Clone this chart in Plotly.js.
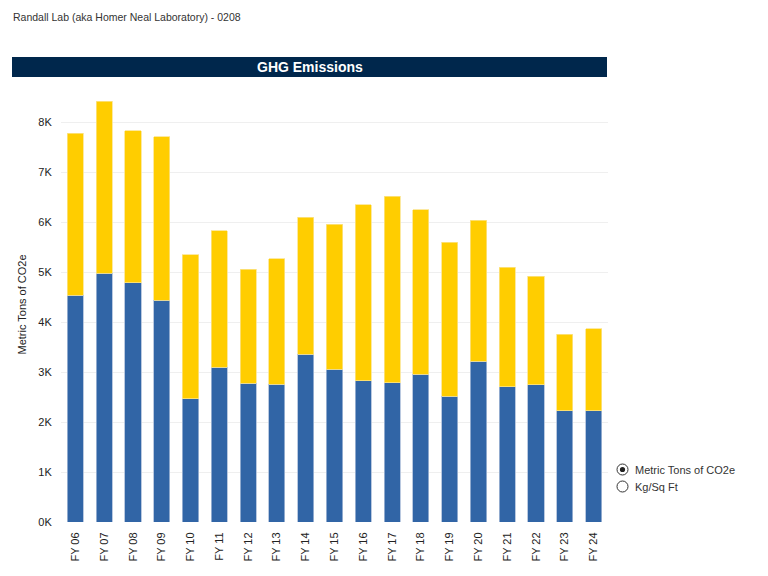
<!DOCTYPE html>
<html>
<head>
<meta charset="utf-8">
<script src="https://cdn.plot.ly/plotly-3.0.1.min.js"></script>
<style>html,body{margin:0;padding:0;background:#fff;}#chart{width:768px;height:576px;}</style>
</head>
<body>
<div id="chart"></div>
<script>
// Data (metric tons CO2e)
var fiscalYears = ["FY 06","FY 07","FY 08","FY 09","FY 10","FY 11","FY 12","FY 13","FY 14","FY 15","FY 16","FY 17","FY 18","FY 19","FY 20","FY 21","FY 22","FY 23","FY 24"];
var blueSeries  = [4534,4974,4788,4440,2468,3094,2774,2754,3360,3054,2828,2788,2960,2520,3214,2708,2748,2228,2228];
var totalSeries = [7780,8414,7828,7708,5348,5828,5054,5268,6094,5960,6348,6520,6248,5594,6034,5094,4920,3754,3868];
var yellowSeries = totalSeries.map(function(t,i){return t - blueSeries[i];});
var yTickVals = [0,1000,2000,3000,4000,5000,6000,7000,8000];
var yTickText = ["0K","1K","2K","3K","4K","5K","6K","7K","8K"];

var font = "Liberation Sans, Arial, sans-serif";
var traces = [
  {type:"bar", x:fiscalYears, y:blueSeries, name:"Blue",
   marker:{color:"#3165a6", line:{color:"#a9bcd8", width:0.8}}, hoverinfo:"x+y"},
  {type:"bar", x:fiscalYears, y:yellowSeries, name:"Yellow",
   marker:{color:"#ffcd00", line:{color:"#fbe38a", width:0.8}}, hoverinfo:"x+y"}
];

var L = 61, R = 160, T = 87, B = 54;
var W = 768 - L - R, H = 576 - T - B;
function px(x){return (x - L)/W;}
function py(y){return (576 - B - y)/H;}

var layout = {
  width:768, height:576,
  margin:{l:L, r:R, t:T, b:B, pad:0},
  paper_bgcolor:"#fff", plot_bgcolor:"#fff",
  barmode:"stack", bargap:0.44,
  showlegend:false,
  font:{family:font, size:11, color:"#333"},
  xaxis:{type:"category", tickangle:-90, showgrid:false, zeroline:false, showline:false,
         ticks:"outside", ticklen:5, tickcolor:"rgba(0,0,0,0)",
         tickfont:{family:font, size:11, color:"#222"}},
  yaxis:{range:[0,8700], tickvals:yTickVals, ticktext:yTickText, showgrid:true, gridcolor:"#efefef",
         zeroline:false, showline:false, ticks:"outside", ticklen:6, tickcolor:"rgba(0,0,0,0)",
         tickfont:{family:font, size:11, color:"#222"},
         title:{text:"Metric Tons of CO2e", font:{family:font, size:11, color:"#222"}, standoff:9}},
  shapes:[
    {type:"rect", xref:"paper", yref:"paper", x0:px(12), x1:px(607), y0:py(77), y1:py(57),
     fillcolor:"#00274c", line:{width:0}},
    {type:"circle", xref:"paper", yref:"paper", xsizemode:"pixel", ysizemode:"pixel",
     xanchor:px(622.5), yanchor:py(469.5), x0:-5.5, x1:5.5, y0:-5.5, y1:5.5,
     fillcolor:"#fff", line:{color:"#333", width:1}},
    {type:"circle", xref:"paper", yref:"paper", xsizemode:"pixel", ysizemode:"pixel",
     xanchor:px(622.5), yanchor:py(469.5), x0:-2.6, x1:2.6, y0:-2.6, y1:2.6,
     fillcolor:"#222", line:{color:"#222", width:0}},
    {type:"circle", xref:"paper", yref:"paper", xsizemode:"pixel", ysizemode:"pixel",
     xanchor:px(622.5), yanchor:py(486.5), x0:-5.5, x1:5.5, y0:-5.5, y1:5.5,
     fillcolor:"#fff", line:{color:"#333", width:1}}
  ],
  annotations:[
    {xref:"paper", yref:"paper", x:px(11), y:py(17), xanchor:"left", yanchor:"middle", showarrow:false,
     text:"Randall Lab (aka Homer Neal Laboratory) - 0208", font:{family:font, size:10.5, color:"#333"}},
    {xref:"paper", yref:"paper", x:px(309.5), y:py(67), xanchor:"center", yanchor:"middle", showarrow:false,
     text:"<b>GHG Emissions</b>", font:{family:font, size:14, color:"#fff"}},
    {xref:"paper", yref:"paper", x:px(633), y:py(469.5), xanchor:"left", yanchor:"middle", showarrow:false,
     text:"Metric Tons of CO2e", font:{family:font, size:11, color:"#333"}},
    {xref:"paper", yref:"paper", x:px(633), y:py(486.5), xanchor:"left", yanchor:"middle", showarrow:false,
     text:"Kg/Sq Ft", font:{family:font, size:11, color:"#333"}}
  ]
};
Plotly.newPlot("chart", traces, layout, {displayModeBar:false, staticPlot:true});
</script>
</body>
</html>
